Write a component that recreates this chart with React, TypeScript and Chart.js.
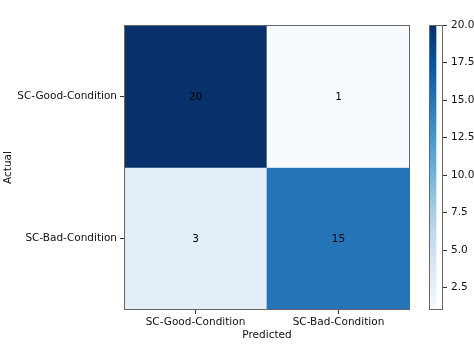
import React, { useEffect, useRef } from "react";
import { Chart, registerables } from "chart.js";
Chart.register(...registerables);

const predictedLabels = ["SC-Good-Condition", "SC-Bad-Condition"];
const actualLabels = ["SC-Good-Condition", "SC-Bad-Condition"];
const rowGood = [20, 1];
const rowBad = [3, 15];
const colorbarTicks = [2.5, 5.0, 7.5, 10.0, 12.5, 15.0, 17.5, 20.0];
const vmin = 1;
const vmax = 20;

const BLUES = ["#f7fbff", "#deebf7", "#c6dbef", "#9ecae1", "#6baed6", "#4292c6", "#2171b5", "#08519c", "#08306b"];

function hex(h: string) {
  return [parseInt(h.slice(1, 3), 16), parseInt(h.slice(3, 5), 16), parseInt(h.slice(5, 7), 16)];
}
function blues(t: number) {
  t = Math.max(0, Math.min(1, t));
  const p = t * (BLUES.length - 1);
  const i = Math.min(BLUES.length - 2, Math.floor(p));
  const f = p - i;
  const a = hex(BLUES[i]);
  const b = hex(BLUES[i + 1]);
  const c = a.map((v, k) => Math.round(v + (b[k] - v) * f));
  return `rgb(${c[0]},${c[1]},${c[2]})`;
}
const norm = (v: number) => (v - vmin) / (vmax - vmin);

const FONT = { family: "DejaVu Sans", size: 10.5 };
const TEXT = "#111";
const FRAME = "#666";

const framePlugin = {
  id: "frame",
  afterDatasetsDraw(chart: any) {
    const { ctx, chartArea: a } = chart;
    ctx.save();
    ctx.strokeStyle = FRAME;
    ctx.lineWidth = 1;
    ctx.strokeRect(Math.round(a.left) + 0.5, Math.round(a.top) + 0.5, Math.round(a.right - a.left) - 1, Math.round(a.bottom - a.top) - 1);
    ctx.restore();
  },
};

const cellTextPlugin = {
  id: "cellText",
  afterDatasetsDraw(chart: any) {
    const { ctx } = chart;
    ctx.save();
    ctx.font = "10.5px 'DejaVu Sans'";
    ctx.fillStyle = "#000";
    ctx.textAlign = "center";
    ctx.textBaseline = "middle";
    chart.data.datasets.forEach((ds: any, di: number) => {
      const meta = chart.getDatasetMeta(di);
      meta.data.forEach((el: any, i: number) => {
        const y = (el.y + el.base) / 2 + 1;
        ctx.fillText(String(ds.counts[i]), el.x, y);
      });
    });
    ctx.restore();
  },
};

export default function App() {
  const mainRef = useRef<HTMLCanvasElement>(null);
  const cbRef = useRef<HTMLCanvasElement>(null);

  useEffect(() => {
    const main = new Chart(mainRef.current!, {
      type: "bar",
      data: {
        labels: predictedLabels,
        datasets: [
          {
            data: rowGood.map(() => [1, 2]) as any,
            counts: rowGood,
            backgroundColor: rowGood.map((v) => blues(norm(v))),
            barPercentage: 1,
            categoryPercentage: 1,
            grouped: false,
            borderWidth: 0,
          } as any,
          {
            data: rowBad.map(() => [0, 1]) as any,
            counts: rowBad,
            backgroundColor: rowBad.map((v) => blues(norm(v))),
            barPercentage: 1,
            categoryPercentage: 1,
            grouped: false,
            borderWidth: 0,
          } as any,
        ],
      },
      options: {
        animation: false,
        responsive: false,
        layout: { padding: { left: 2, top: 25, right: 10, bottom: 22 } },
        plugins: { legend: { display: false }, tooltip: { enabled: false } },
        scales: {
          x: {
            type: "category",
            offset: true,
            grid: { offset: false, drawOnChartArea: false, tickLength: 4, color: "#333" },
            border: { display: false },
            ticks: { font: FONT, color: TEXT, padding: 2, maxRotation: 0 },
            title: { display: true, text: "Predicted", font: FONT, color: TEXT, padding: { top: 0, bottom: 0 } },
            afterFit(scale: any) {
              scale.height = 32;
            },
          },
          y: {
            type: "linear",
            min: 0,
            max: 2,
            grid: { drawOnChartArea: false, tickLength: 4, color: "#333" },
            border: { display: false },
            afterBuildTicks(scale: any) {
              scale.ticks = [{ value: 0.5 }, { value: 1.5 }];
            },
            ticks: {
              font: FONT,
              color: TEXT,
              padding: 3,
              callback: (v: any) => (v === 1.5 ? actualLabels[0] : actualLabels[1]),
            },
            title: { display: true, text: "Actual", font: FONT, color: TEXT, padding: { top: 0, bottom: 0 } },
            afterFit(scale: any) {
              scale.width = 122;
            },
          },
        },
      },
      plugins: [framePlugin, cellTextPlugin],
    });

    const cb = new Chart(cbRef.current!, {
      type: "bar",
      data: {
        labels: ["cb"],
        datasets: [
          {
            data: [[vmin, vmax]] as any,
            barPercentage: 1,
            categoryPercentage: 1,
            borderWidth: 0,
            backgroundColor: (ctx: any) => {
              const area = ctx.chart.chartArea;
              if (!area) return BLUES[0];
              const g = ctx.chart.ctx.createLinearGradient(0, area.bottom, 0, area.top);
              for (let i = 0; i <= 40; i++) g.addColorStop(i / 40, blues(i / 40));
              return g;
            },
          } as any,
        ],
      },
      options: {
        animation: false,
        responsive: false,
        layout: { padding: { left: 4, top: 25, right: 0, bottom: 54 } },
        plugins: { legend: { display: false }, tooltip: { enabled: false } },
        scales: {
          x: { display: false, offset: false },
          y: {
            type: "linear",
            position: "right",
            min: vmin,
            max: vmax,
            grid: { drawOnChartArea: false, tickLength: 4, color: "#333" },
            border: { display: false },
            afterBuildTicks(scale: any) {
              scale.ticks = colorbarTicks.map((v) => ({ value: v }));
            },
            ticks: { font: FONT, color: TEXT, padding: 4, callback: (v: any) => Number(v).toFixed(1) },
            afterFit(scale: any) {
              scale.width = 31;
            },
          },
        },
      },
      plugins: [framePlugin],
    });

    return () => {
      main.destroy();
      cb.destroy();
    };
  }, []);

  return (
    <div style={{ position: "absolute", left: 0, top: 0, width: 474, height: 364, background: "#fff", overflow: "hidden" }}>
      <canvas ref={mainRef} width={420} height={364} style={{ position: "absolute", left: 0, top: 0 }} />
      <canvas ref={cbRef} width={49} height={364} style={{ position: "absolute", left: 425, top: 0 }} />
    </div>
  );
}
